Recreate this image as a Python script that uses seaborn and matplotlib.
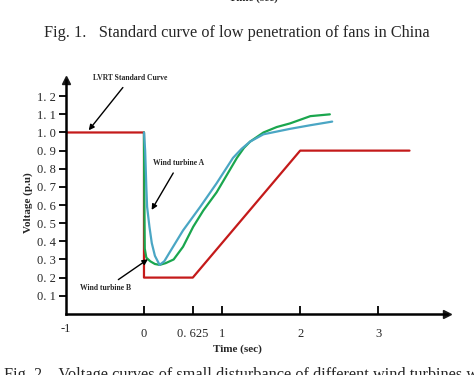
import matplotlib
matplotlib.use("Agg")
import matplotlib.pyplot as plt
import pandas as pd
import seaborn as sns

# LVRT standard curve
lvrt_t = [-1.0, 0.0, 0.0, 0.625, 2.0, 3.4]
lvrt_v = [1.0, 1.0, 0.2, 0.2, 0.9, 0.9]

# wind turbine A (blue)
a_t = [0.0, 0.015, 0.03, 0.04, 0.07, 0.1, 0.14, 0.2, 0.26, 0.33, 0.5, 0.72,
       0.93, 1.14, 1.25, 1.36, 1.53, 1.87, 2.13, 2.41]
a_v = [1.0, 0.9, 0.7, 0.59, 0.48, 0.39, 0.32, 0.27, 0.29, 0.34, 0.46, 0.59,
       0.72, 0.86, 0.91, 0.95, 0.99, 1.02, 1.04, 1.06]

# wind turbine B (green)
b_t = [0.0, 0.005, 0.01, 0.03, 0.08, 0.14, 0.2, 0.28, 0.38, 0.5, 0.63, 0.76,
       0.93, 1.06, 1.19, 1.28, 1.36, 1.53, 1.7, 1.87, 2.13, 2.38]
b_v = [1.0, 0.6, 0.36, 0.31, 0.29, 0.275, 0.27, 0.28, 0.30, 0.37, 0.48, 0.57,
       0.67, 0.765, 0.86, 0.915, 0.95, 1.0, 1.03, 1.05, 1.09, 1.10]

x_ticks = [0, 0.625, 1, 2, 3]
x_tick_labels = ["0", "0. 625", "1", "2", "3"]
y_ticks = [0.1, 0.2, 0.3, 0.4, 0.5, 0.6, 0.7, 0.8, 0.9, 1.0, 1.1, 1.2]

sns.set_theme(style="white")
plt.rcParams["font.family"] = ["Liberation Serif", "DejaVu Serif"]

fig = plt.figure(figsize=(4.74, 3.75), dpi=100)
ax = fig.add_axes([0.139, 0.163, 0.804, 0.624])

red = "#c41a1a"
green = "#1aa64e"
blue = "#4aa6c4"

df_lvrt = pd.DataFrame({"t": lvrt_t, "v": lvrt_v})
df_a = pd.DataFrame({"t": a_t, "v": a_v})
df_b = pd.DataFrame({"t": b_t, "v": b_v})

line_kw = dict(sort=False, estimator=None, lw=1.6, solid_joinstyle="round", ax=ax)
sns.lineplot(data=df_lvrt, x="t", y="v", color=red, **line_kw)
sns.lineplot(data=df_b, x="t", y="v", color=green, **line_kw)
sns.lineplot(data=df_a, x="t", y="v", color=blue, **line_kw)

ax.set_xlim(-1, 3.88)
ax.set_ylim(0, 1.29)
ax.set_xticks(x_ticks)
ax.set_xticklabels(x_tick_labels)
ax.set_yticks(y_ticks)
ax.set_yticklabels([f"{v:.1f}".replace(".", ". ") for v in y_ticks])

for s in ["top", "right"]:
    ax.spines[s].set_visible(False)
for s in ["left", "bottom"]:
    ax.spines[s].set_linewidth(1.8)
    ax.spines[s].set_color("black")

ax.tick_params(axis="x", direction="in", length=6, width=1.3, labelsize=9, pad=10,
               color="black", bottom=True)
ax.tick_params(axis="y", direction="out", length=5, width=1.3, labelsize=9, pad=2,
               color="black", left=True)

# axis arrows
ax.plot(1, 0, ">k", transform=ax.transAxes, clip_on=False, markersize=6)
ax.plot(0, 1, "^k", transform=ax.transAxes, clip_on=False, markersize=6)

# -1 label at the origin of the time axis
ax.text(-1, -0.085, "-1", ha="center", va="center", fontsize=9)

ax.set_xlabel("Time (sec)", fontsize=8, fontweight="bold")
ax.xaxis.set_label_coords(0.449, -0.132)
ax.set_ylabel("Voltage (p.u)", fontsize=8, fontweight="bold")
ax.yaxis.set_label_coords(-0.087, 0.474)

arrow = dict(arrowstyle="-|>", color="black", lw=1.0, mutation_scale=8)
ax.annotate("LVRT Standard Curve", xy=(-0.73, 1.0), xytext=(-0.65, 1.30),
            fontsize=5.5, fontweight="bold", ha="left", va="center",
            arrowprops=arrow, annotation_clip=False)
ax.annotate("Wind turbine A", xy=(0.08, 0.56), xytext=(0.12, 0.83),
            fontsize=5.5, fontweight="bold", ha="left", va="center", arrowprops=arrow)
ax.annotate("Wind turbine B", xy=(0.08, 0.31), xytext=(-0.82, 0.14),
            fontsize=5.5, fontweight="bold", ha="left", va="center", arrowprops=arrow)

# neighbouring page content, cut by the image edges as in the scan
fig.text(0.534, 1.004, "Time (sec)", ha="center", va="center", fontsize=8, fontweight="bold")
fig.text(0.5, 0.912, "Fig. 1.   Standard curve of low penetration of fans in China",
         ha="center", va="center", fontsize=11.7)
fig.text(0.008, 0.022, "Fig. 2.   Voltage curves of small disturbance of different wind turbines with low",
         ha="left", va="top", fontsize=11.7)

fig.savefig("out.png", dpi=100)
